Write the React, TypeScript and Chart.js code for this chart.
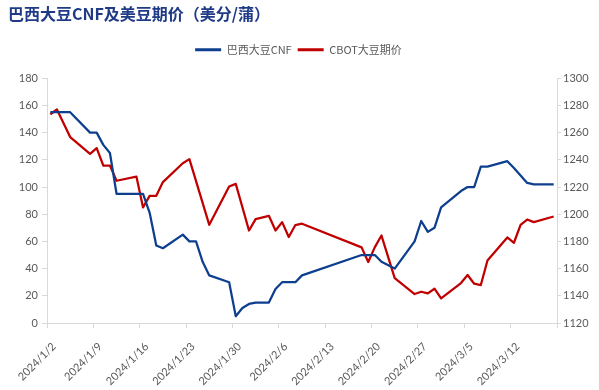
import React, { useEffect, useRef } from 'react';
import { Chart, registerables } from 'chart.js';

Chart.register(...registerables);

const TITLE = '巴西大豆CNF及美豆期价（美分/蒲）';
const SERIES_NAMES = ['巴西大豆CNF', 'CBOT大豆期价'];

const cnfDates = ['1/2', '1/3', '1/4', '1/5', '1/8', '1/9', '1/10', '1/11', '1/12', '1/15', '1/16', '1/17', '1/18', '1/19', '1/22', '1/23', '1/24', '1/25', '1/26', '1/29', '1/30', '1/31', '2/1', '2/2', '2/4', '2/5', '2/6', '2/7', '2/8', '2/9', '2/18', '2/19', '2/20', '2/21', '2/23', '2/26', '2/27', '2/28', '2/29', '3/1', '3/4', '3/5', '3/6', '3/7', '3/8', '3/11', '3/12', '3/14', '3/15', '3/18'];
const cnfValues = [155, 155, 155, 155, 140, 140, 131, 125, 95, 95, 95, 81, 57, 55, 65, 60, 60, 45, 35, 30, 5, 11, 14, 15, 15, 25, 30, 30, 30, 35, 50, 50, 50, 45, 40, 60, 75, 67, 70, 85, 97, 100, 100, 115, 115, 119, 114, 103, 102, 102];

const cbotDates = ['1/2', '1/3', '1/5', '1/8', '1/9', '1/10', '1/11', '1/12', '1/15', '1/16', '1/17', '1/18', '1/19', '1/22', '1/23', '1/26', '1/29', '1/30', '2/1', '2/2', '2/4', '2/5', '2/6', '2/7', '2/8', '2/9', '2/18', '2/19', '2/20', '2/21', '2/23', '2/26', '2/27', '2/28', '2/29', '3/1', '3/4', '3/5', '3/6', '3/7', '3/8', '3/11', '3/12', '3/13', '3/14', '3/15', '3/18'];
const cbotValues = [1273.5, 1277, 1256.7, 1244.4, 1248.6, 1235.8, 1235.8, 1224.6, 1227.7, 1205, 1213.5, 1213.5, 1223.6, 1237.5, 1240.5, 1192.2, 1220.4, 1222.3, 1188, 1196.4, 1198.8, 1188, 1194.2, 1183.2, 1192, 1193, 1175.6, 1164.8, 1175.8, 1184.3, 1153, 1141.3, 1143, 1141.8, 1145.2, 1138.1, 1149.4, 1155.3, 1148.9, 1147.9, 1166, 1182.9, 1179, 1192.2, 1196.1, 1194.2, 1198.3];

const xTickLabels = ['2024/1/2', '2024/1/9', '2024/1/16', '2024/1/23', '2024/1/30', '2024/2/6', '2024/2/13', '2024/2/20', '2024/2/27', '2024/3/5', '2024/3/12'];

const YEAR = 2024;
const BASE = Date.UTC(YEAR, 0, 2);
const dayOf = (s: string) => {
  const [m, d] = s.split('/').map(Number);
  return (Date.UTC(YEAR, m - 1, d) - BASE) / 86400000;
};
// Excel date axis "between tick marks": each date sits in the middle of its day slot
const toPoints = (dates: string[], vals: number[]) => dates.map((d, i) => ({ x: dayOf(d) + 0.5, y: vals[i] }));

const BLUE = '#0E3F8E';
const RED = '#C00000';
const AXIS = '#D9D9D9';
const TEXT = '#595959';

const legendSpacer = {
  id: 'legendSpacer',
  beforeLayout(chart: any) {
    const lg = chart.legend;
    if (lg && !lg.__patched) {
      const orig = lg.fit;
      lg.fit = function () {
        orig.call(this);
        this.height += 13;
      };
      lg.__patched = true;
    }
  },
};

export default function App() {
  const ref = useRef<HTMLCanvasElement | null>(null);
  useEffect(() => {
    if (!ref.current) return;
    const tickFont = { family: 'Lato, "Liberation Sans", sans-serif', size: 11 };
    const chart = new Chart(ref.current, {
      type: 'line',
      data: {
        datasets: [
          {
            label: SERIES_NAMES[0],
            data: toPoints(cnfDates, cnfValues),
            borderColor: BLUE,
            backgroundColor: BLUE,
            borderWidth: 2.25,
            pointRadius: 0,
            tension: 0,
            borderJoinStyle: 'round',
            yAxisID: 'y',
          },
          {
            label: SERIES_NAMES[1],
            data: toPoints(cbotDates, cbotValues),
            borderColor: RED,
            backgroundColor: RED,
            borderWidth: 2.25,
            pointRadius: 0,
            tension: 0,
            borderJoinStyle: 'round',
            yAxisID: 'y1',
          },
        ],
      },
      options: {
        animation: false,
        responsive: false,
        parsing: false as any,
        layout: { padding: { left: 8, right: 10, top: 0, bottom: 0 } },
        plugins: {
          title: {
            display: true,
            text: TITLE,
            align: 'start',
            color: '#1F3A86',
            font: { family: '"Noto Sans CJK SC", sans-serif', size: 16, weight: 'bold' },
            padding: { top: 4, bottom: 15 },
          },
          legend: {
            display: true,
            position: 'top',
            labels: {
              color: TEXT,
              font: { family: '"Noto Sans CJK SC", sans-serif', size: 11 },
              boxWidth: 26,
              boxHeight: 3,
              padding: 6,
              generateLabels: (c: any) =>
                (Chart.defaults.plugins.legend.labels as any).generateLabels(c).map((it: any) => ({
                  ...it,
                  lineWidth: 0,
                  fillStyle: it.strokeStyle,
                })),
            },
          },
          tooltip: { enabled: false },
        },
        scales: {
          x: {
            type: 'linear',
            min: 0,
            max: 77,
            afterFit: (s: any) => {
              s.height = 67;
            },
            afterBuildTicks: (s: any) => {
              s.ticks = Array.from({ length: 12 }, (_, i) => ({ value: i * 7 }));
            },
            ticks: {
              autoSkip: false,
              maxRotation: 45,
              minRotation: 45,
              color: TEXT,
              font: tickFont,
              padding: 12,
              labelOffset: 7,
              callback: (v: any) => xTickLabels[Math.round(Number(v) / 7)] ?? '',
            },
            grid: { display: true, drawOnChartArea: false, drawTicks: true, tickLength: 5, color: AXIS },
            border: { display: true, color: AXIS, width: 1 },
          },
          y: {
            type: 'linear',
            position: 'left',
            min: 0,
            max: 180,
            afterFit: (s: any) => {
              s.width = 39;
            },
            ticks: { stepSize: 20, color: TEXT, font: tickFont, padding: 4, callback: (v: any) => String(v) },
            grid: { display: true, drawOnChartArea: false, drawTicks: true, tickLength: 5, color: AXIS },
            border: { display: true, color: AXIS, width: 1 },
          },
          y1: {
            type: 'linear',
            position: 'right',
            min: 1120,
            max: 1300,
            afterFit: (s: any) => {
              s.width = 32;
            },
            ticks: { stepSize: 20, color: TEXT, font: tickFont, padding: 2, callback: (v: any) => String(v) },
            grid: { display: true, drawOnChartArea: false, drawTicks: true, tickLength: 4, color: AXIS },
            border: { display: true, color: AXIS, width: 1 },
          },
        },
      } as any,
      plugins: [legendSpacer],
    });
    return () => chart.destroy();
  }, []);
  return (
    <div style={{ position: 'fixed', left: 0, top: 0, width: 599, height: 390, background: '#fff' }}>
      <canvas ref={ref} width={599} height={390} />
    </div>
  );
}
